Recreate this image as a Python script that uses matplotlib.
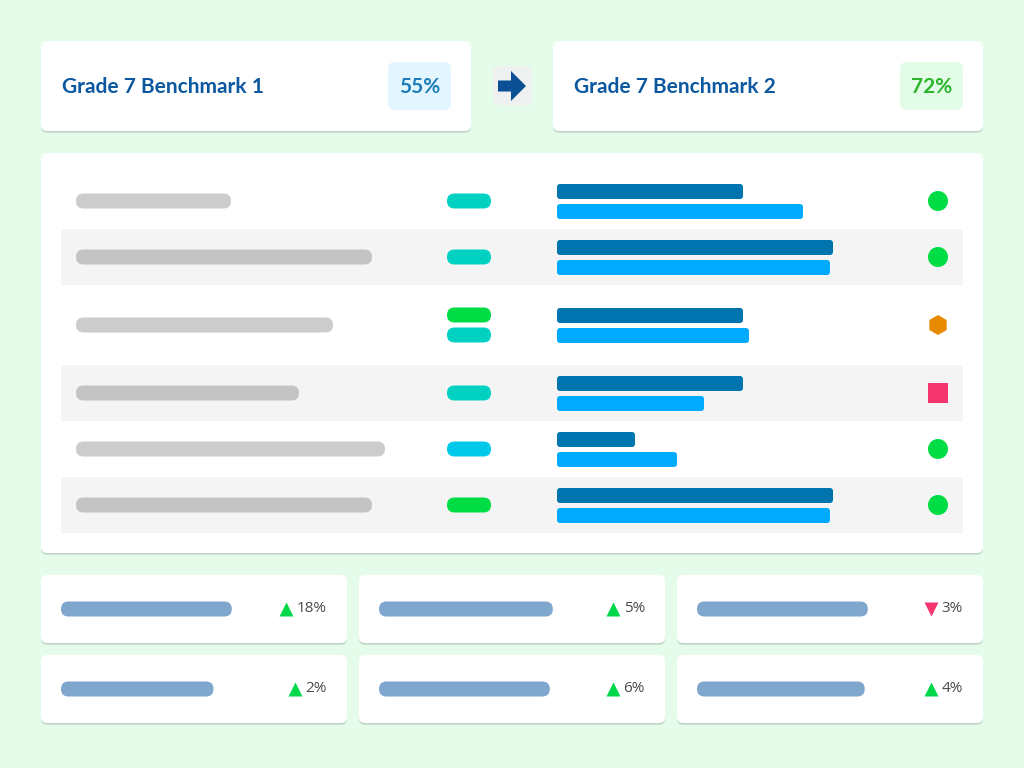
import matplotlib
matplotlib.use("Agg")
import matplotlib.pyplot as plt
from matplotlib.patches import FancyBboxPatch, FancyArrow, Circle, RegularPolygon, Rectangle

plt.rcParams['font.family'] = ['Lato', 'DejaVu Sans']

# data
benchmarks = ["Grade 7 Benchmark 1", "Grade 7 Benchmark 2"]
scores = [55, 72]

label_lengths = [155, 296, 257, 223, 309, 296]          # placeholder text widths
pill_colors = [["#00D1C0"], ["#00D1C0"], ["#00DD44", "#00D1C0"],
               ["#00D1C0"], ["#00C8E8"], ["#00DD44"]]
bench1_pct = [62, 92, 62, 62, 26, 92]
bench2_pct = [82, 91, 64, 49, 40, 91]
status = ["circle", "circle", "hexagon", "square", "circle", "circle"]

change_bars = [56, 57, 56, 50, 56, 55]                    # placeholder widths (%)
change_vals = [18, 5, -3, 2, 6, 4]

BG = "#E5FCEA"
fig = plt.figure(figsize=(10.24, 7.68), dpi=100, facecolor=BG)
ax = fig.add_axes([0, 0, 1, 1])
ax.set_xlim(0, 1024)
ax.set_ylim(768, 0)
ax.axis("off")


def rbox(x, y, w, h, r, color, z=2, **kw):
    p = FancyBboxPatch((x, y), w, h, boxstyle=f"round,pad=0,rounding_size={r}",
                       fc=color, ec="none", zorder=z, **kw)
    ax.add_patch(p)
    return p


def card(x, y, w, h):
    rbox(x, y + 2, w, h, 6, "#000000", z=1, alpha=0.10)
    rbox(x, y + 1, w, h, 6, "#000000", z=1, alpha=0.06)
    rbox(x, y, w, h, 6, "white", z=2)


# top benchmark cards
badge_fill = ["#E3F5FF", "#E3FCE8"]
badge_text = ["#1C7DB9", "#2DB52A"]
for i, (name, sc) in enumerate(zip(benchmarks, scores)):
    x0 = 41 + i * 512
    card(x0, 41, 430, 90)
    ax.text(x0 + 21, 87, name, fontsize=15, fontweight="bold", color="#0B58A0",
            va="center", ha="left", zorder=3)
    rbox(x0 + 347, 62, 63, 48, 7, badge_fill[i], z=3)
    ax.text(x0 + 378.5, 87, f"{sc}%", fontsize=15, fontweight="bold",
            color=badge_text[i], va="center", ha="center", zorder=4)

# arrow button
rbox(493, 66, 39, 39, 7, "#EFF1F0", z=2)
ax.add_patch(FancyArrow(498, 86, 13, 0, width=11, head_width=30, head_length=15,
                        length_includes_head=False, fc="#0B4F94", ec="none", zorder=3))

# main table
card(41, 153, 942, 400)
row_tops = [173, 229, 285, 365, 421, 477]
row_heights = [56, 56, 80, 56, 56, 56]
bar_x0, bar_scale = 557, 3.0
for i in range(6):
    top, h = row_tops[i], row_heights[i]
    cy = top + h / 2
    if i % 2 == 1:
        ax.add_patch(Rectangle((61, top), 902, h, fc="#F4F4F4", ec="none", zorder=2))
    gray = "#C4C4C4" if i % 2 == 1 else "#CCCCCC"
    rbox(76, cy - 7.5, label_lengths[i], 15, 7.5, gray, z=3)

    pills = pill_colors[i]
    offs = [0] if len(pills) == 1 else [-10, 10]
    for c, o in zip(pills, offs):
        rbox(447, cy + o - 7.5, 44, 15, 7.5, c, z=3)

    rbox(bar_x0, cy - 17, bench1_pct[i] * bar_scale, 15, 3, "#0074AE", z=3)
    rbox(bar_x0, cy + 3, bench2_pct[i] * bar_scale, 15, 3, "#00AAFF", z=3)

    if status[i] == "circle":
        ax.add_patch(Circle((938, cy), 10, fc="#00DD44", ec="none", zorder=3))
    elif status[i] == "hexagon":
        ax.add_patch(RegularPolygon((938, cy), 6, radius=10, fc="#E88A00", ec="none", zorder=3))
    else:
        ax.add_patch(Rectangle((928, cy - 10), 20, 20, fc="#F5356E", ec="none", zorder=3))

# bottom change cards
fig.canvas.draw()
renderer = fig.canvas.get_renderer()
for k, (bw, val) in enumerate(zip(change_bars, change_vals)):
    r, c = divmod(k, 3)
    x0 = 41 + c * 318
    y0 = 575 + r * 80
    card(x0, y0, 306, 68)
    cy = y0 + 34
    rbox(x0 + 20, cy - 7.5, bw * 3.05, 15, 7.5, "#7FA6CC", z=3)
    txt = ax.text(x0 + 286, cy, f"{abs(val)}%", fontsize=11, color="#4A4A4A",
                  ha="right", va="center", family=["Open Sans", "DejaVu Sans"], zorder=3)
    bb = txt.get_window_extent(renderer)
    tx = bb.x0 - 11
    if val >= 0:
        ax.plot(tx, cy, marker="^", ms=10, color="#00D84A", mec="none", zorder=3)
    else:
        ax.plot(tx, cy, marker="v", ms=10, color="#F5356E", mec="none", zorder=3)

fig.savefig("out.png", dpi=100, facecolor=BG)
